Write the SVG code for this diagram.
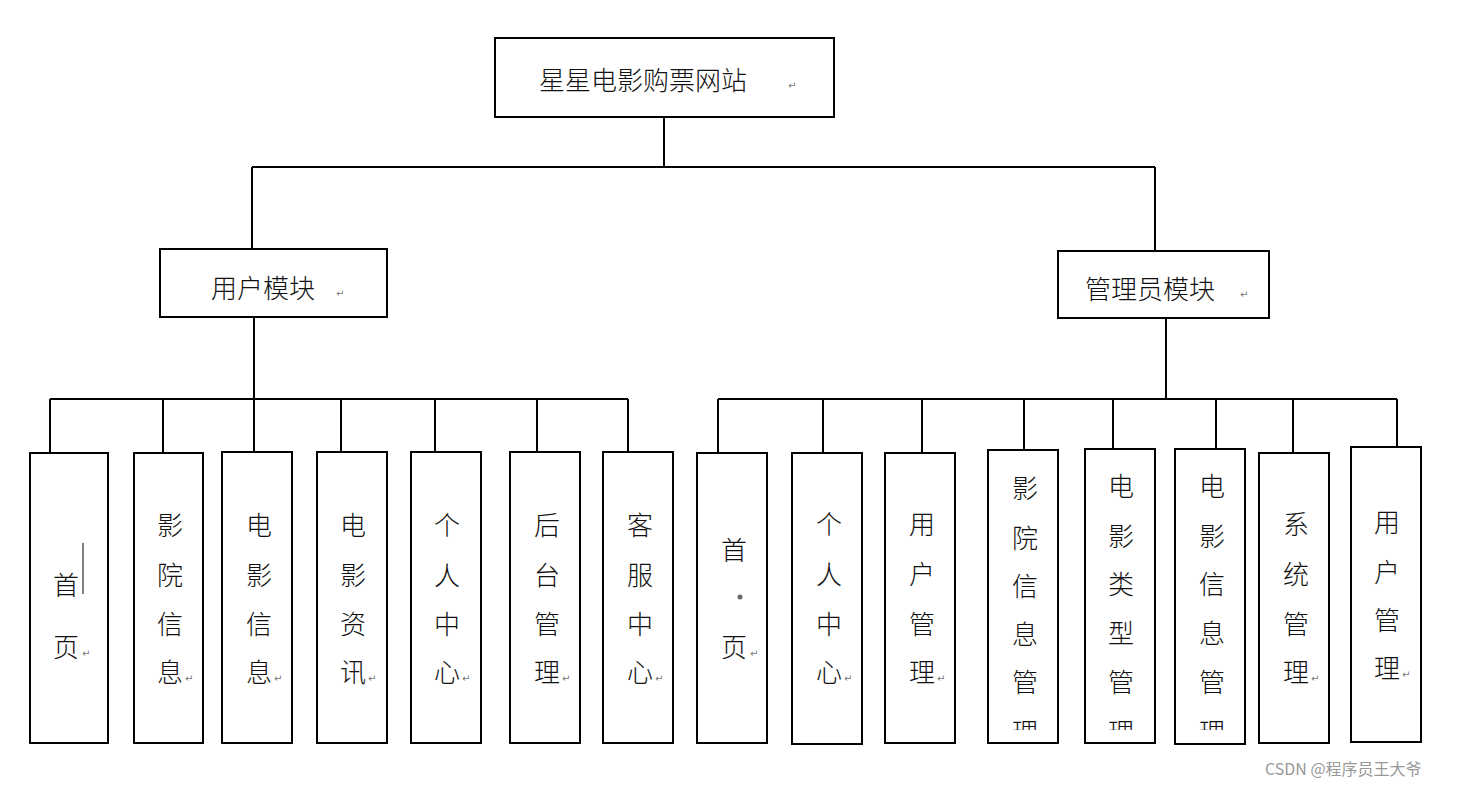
<svg xmlns="http://www.w3.org/2000/svg" width="1472" height="786" viewBox="0 0 1472 786">
<style>
.b{fill:#fff;stroke:#000;stroke-width:2}
.t{font-family:"Noto Sans CJK SC","Noto Sans",sans-serif;font-size:26px;fill:#111;text-anchor:middle;dominant-baseline:central;font-weight:300}
.h{font-family:"Noto Sans CJK SC","Noto Sans",sans-serif;font-size:26px;fill:#111;dominant-baseline:central;font-weight:300}
.m{font-family:"DejaVu Sans",sans-serif;font-size:10px;fill:#777;dominant-baseline:central}
.c{stroke:#000;stroke-width:2;fill:none}
</style>
<defs>
<clipPath id="k11"><rect x="988" y="450" width="70" height="280"/></clipPath>
<clipPath id="k12"><rect x="1085" y="449" width="70" height="281"/></clipPath>
<clipPath id="k13"><rect x="1175" y="449" width="70" height="281"/></clipPath>
</defs>
<rect width="1472" height="786" fill="#fff"/>
<g id="connectors">
<path class="c" d="M664 117V167M252 167H1155M252 167V249M1155 167V251"/>
<path class="c" d="M254 317V399M50 399H628M50 399V453M163 399V453M254 399V452M341 399V452M435 399V452M537 399V452M628 399V452"/>
<path class="c" d="M1166 318V399M718 399H1397M718 399V453M823 399V453M922 399V453M1024 399V450M1113 399V449M1216 399V449M1293 399V453M1397 399V447"/>
</g>
<g id="root"><rect class="b" x="495" y="38" width="339" height="79"/><text class="h" x="539" y="78">星星电影购票网站</text><text class="m" x="788" y="85">↵</text></g>
<g id="user"><rect class="b" x="160" y="249" width="227" height="68"/><text class="h" x="211" y="286">用户模块</text><text class="m" x="336" y="293">↵</text></g>
<g id="admin"><rect class="b" x="1058" y="251" width="211" height="67"/><text class="h" x="1085" y="287">管理员模块</text><text class="m" x="1240" y="294">↵</text></g>

<g id="n1"><rect class="b" x="30" y="453" width="78" height="290"/><text class="t"><tspan x="66" y="583">首</tspan><tspan x="66" y="645">页</tspan></text><line x1="83" y1="543" x2="83" y2="594" stroke="#000" stroke-width="1"/><text class="m" x="82" y="653">↵</text></g>
<g id="n2"><rect class="b" x="134" y="453" width="69" height="290"/><text class="t"><tspan x="170" y="523">影</tspan><tspan x="170" y="573">院</tspan><tspan x="170" y="622">信</tspan><tspan x="170" y="670">息</tspan></text><text class="m" x="185" y="678">↵</text></g>
<g id="n3"><rect class="b" x="222" y="452" width="70" height="291"/><text class="t"><tspan x="259" y="523">电</tspan><tspan x="259" y="573">影</tspan><tspan x="259" y="622">信</tspan><tspan x="259" y="670">息</tspan></text><text class="m" x="274" y="678">↵</text></g>
<g id="n4"><rect class="b" x="317" y="452" width="70" height="291"/><text class="t"><tspan x="353" y="523">电</tspan><tspan x="353" y="573">影</tspan><tspan x="353" y="622">资</tspan><tspan x="353" y="670">讯</tspan></text><text class="m" x="368" y="678">↵</text></g>
<g id="n5"><rect class="b" x="411" y="452" width="70" height="291"/><text class="t"><tspan x="447" y="523">个</tspan><tspan x="447" y="573">人</tspan><tspan x="447" y="622">中</tspan><tspan x="447" y="670">心</tspan></text><text class="m" x="462" y="678">↵</text></g>
<g id="n6"><rect class="b" x="510" y="452" width="70" height="291"/><text class="t"><tspan x="547" y="523">后</tspan><tspan x="547" y="573">台</tspan><tspan x="547" y="622">管</tspan><tspan x="547" y="670">理</tspan></text><text class="m" x="562" y="678">↵</text></g>
<g id="n7"><rect class="b" x="603" y="452" width="70" height="291"/><text class="t"><tspan x="640" y="523">客</tspan><tspan x="640" y="573">服</tspan><tspan x="640" y="622">中</tspan><tspan x="640" y="670">心</tspan></text><text class="m" x="655" y="678">↵</text></g>

<g id="n8"><rect class="b" x="697" y="453" width="70" height="290"/><text class="t"><tspan x="734" y="548">首</tspan><tspan x="734" y="645">页</tspan></text><circle cx="740" cy="597" r="2.5" fill="#666"/><text class="m" x="750" y="653">↵</text></g>
<g id="n9"><rect class="b" x="792" y="453" width="70" height="291"/><text class="t"><tspan x="829" y="522">个</tspan><tspan x="829" y="572">人</tspan><tspan x="829" y="622">中</tspan><tspan x="829" y="670">心</tspan></text><text class="m" x="844" y="678">↵</text></g>
<g id="n10"><rect class="b" x="885" y="453" width="70" height="290"/><text class="t"><tspan x="922" y="522">用</tspan><tspan x="922" y="572">户</tspan><tspan x="922" y="622">管</tspan><tspan x="922" y="670">理</tspan></text><text class="m" x="937" y="678">↵</text></g>
<g id="n11"><rect class="b" x="988" y="450" width="70" height="293"/><text class="t" clip-path="url(#k11)"><tspan x="1025" y="486">影</tspan><tspan x="1025" y="536">院</tspan><tspan x="1025" y="584">信</tspan><tspan x="1025" y="632">息</tspan><tspan x="1025" y="680">管</tspan><tspan x="1025" y="730">理</tspan></text></g>
<g id="n12"><rect class="b" x="1085" y="449" width="70" height="294"/><text class="t" clip-path="url(#k12)"><tspan x="1121" y="484">电</tspan><tspan x="1121" y="534">影</tspan><tspan x="1121" y="582">类</tspan><tspan x="1121" y="631">型</tspan><tspan x="1121" y="680">管</tspan><tspan x="1121" y="730">理</tspan></text></g>
<g id="n13"><rect class="b" x="1175" y="449" width="70" height="295"/><text class="t" clip-path="url(#k13)"><tspan x="1212" y="484">电</tspan><tspan x="1212" y="534">影</tspan><tspan x="1212" y="582">信</tspan><tspan x="1212" y="631">息</tspan><tspan x="1212" y="680">管</tspan><tspan x="1212" y="730">理</tspan></text></g>
<g id="n14"><rect class="b" x="1259" y="453" width="70" height="290"/><text class="t"><tspan x="1296" y="522">系</tspan><tspan x="1296" y="572">统</tspan><tspan x="1296" y="622">管</tspan><tspan x="1296" y="670">理</tspan></text><text class="m" x="1311" y="678">↵</text></g>
<g id="n15"><rect class="b" x="1351" y="447" width="70" height="295"/><text class="t"><tspan x="1387" y="520">用</tspan><tspan x="1387" y="570">户</tspan><tspan x="1387" y="618">管</tspan><tspan x="1387" y="666">理</tspan></text><text class="m" x="1402" y="674">↵</text></g>
<text x="1265" y="768" font-family="'Noto Sans CJK SC',sans-serif" font-size="16" fill="#999" dominant-baseline="central">CSDN @程序员王大爷</text>
</svg>
